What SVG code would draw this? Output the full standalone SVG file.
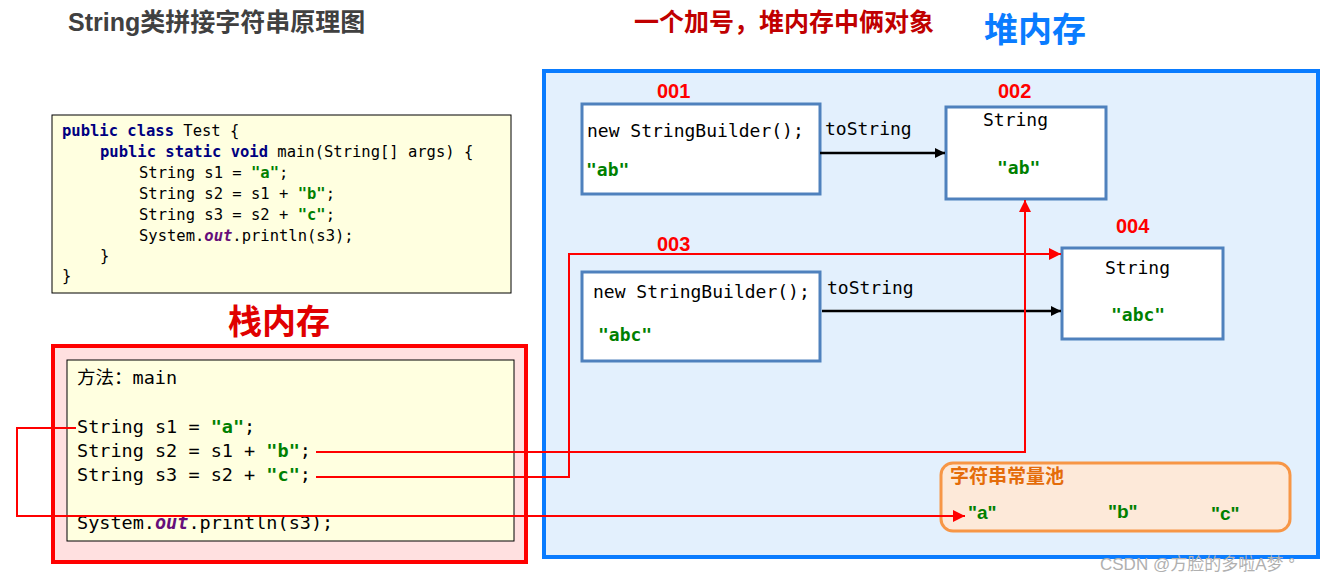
<svg xmlns="http://www.w3.org/2000/svg" width="1332" height="581" viewBox="0 0 1332 581">
<style>
.m{font-family:"DejaVu Sans Mono","Liberation Mono",monospace;fill:#000}
.k{fill:#000080;font-weight:bold}
.s{fill:#008000;font-weight:bold}
.o{fill:#660e7a;font-weight:bold;font-style:italic}
.n{font-family:"Liberation Sans","Noto Sans CJK SC",sans-serif;font-weight:bold;fill:#ff0000;font-size:20px}
.b{fill:#fff;stroke:#4f81bd;stroke-width:3}
.r{fill:none;stroke:#ff0000;stroke-width:2}
</style>
<defs>
<marker id="ar" viewBox="0 0 10 10" refX="10" refY="5" markerWidth="6" markerHeight="6" orient="auto"><path d="M0,0L10,5L0,10z" fill="#ff0000"/></marker>
<marker id="ab" viewBox="0 0 10 10" refX="10" refY="5" markerWidth="4" markerHeight="4" orient="auto"><path d="M0,0L10,5L0,10z" fill="#000"/></marker>
</defs>
<rect width="1332" height="581" fill="#fff"/>
<text x="68" y="31" font-family="Liberation Sans,Noto Sans CJK SC,sans-serif" font-weight="bold" font-size="25" fill="#404040">String类拼接字符串原理图</text>
<text x="634" y="31" font-family="Noto Sans CJK SC,sans-serif" font-weight="bold" font-size="25" fill="#c00000">一个加号，堆内存中俩对象</text>
<text x="984" y="42" font-family="Noto Sans CJK SC,sans-serif" font-weight="bold" font-size="34" fill="#0a7cff">堆内存</text>
<text x="228" y="334" font-family="Noto Sans CJK SC,sans-serif" font-weight="bold" font-size="34" fill="#e00000">栈内存</text>

<g id="code">
<rect x="52" y="115" width="459" height="178" fill="#ffffe0" stroke="#000"/>
<text class="m" font-size="15.5"><tspan x="62" y="136"><tspan class="k">public class</tspan> Test {</tspan><tspan x="100" y="157"><tspan class="k">public static void</tspan> main(String[] args) {</tspan><tspan x="139" y="178">String s1 = <tspan class="s">"a"</tspan>;</tspan><tspan x="139" y="199">String s2 = s1 + <tspan class="s">"b"</tspan>;</tspan><tspan x="139" y="220">String s3 = s2 + <tspan class="s">"c"</tspan>;</tspan><tspan x="139" y="241">System.<tspan class="o">out</tspan>.println(s3);</tspan><tspan x="100" y="261">}</tspan><tspan x="62" y="281">}</tspan></text>
</g>

<g id="stack">
<rect x="53" y="346" width="473" height="216" fill="#ffe0e0" stroke="#ff0000" stroke-width="4"/>
<rect x="67" y="360" width="447" height="181" fill="#ffffe0" stroke="#000"/>
<text class="m" font-size="18.5"><tspan x="77" y="384" font-family="DejaVu Sans Mono,Noto Sans CJK SC,monospace">方法：main</tspan><tspan x="77" y="433">String s1 = <tspan class="s">"a"</tspan>;</tspan><tspan x="77" y="457">String s2 = s1 + <tspan class="s">"b"</tspan>;</tspan><tspan x="77" y="481">String s3 = s2 + <tspan class="s">"c"</tspan>;</tspan><tspan x="77" y="529">System.<tspan class="o">out</tspan>.println(s3);</tspan></text>
</g>

<g id="heap">
<rect x="544" y="71" width="774" height="486" fill="#e3f0fd" stroke="#0a7cff" stroke-width="4"/>
</g>

<g id="n001">
<text class="n" x="657" y="98">001</text>
<rect class="b" x="582" y="104" width="238" height="90"/>
<text class="m" font-size="18" x="587" y="137">new StringBuilder();</text>
<text class="m s" font-size="18" x="586" y="176">"ab"</text>
</g>
<g id="n002">
<text class="n" x="998" y="98">002</text>
<rect class="b" x="946" y="107" width="160" height="92"/>
<text class="m" font-size="18" x="983" y="126">String</text>
<text class="m s" font-size="18" x="997" y="174">"ab"</text>
</g>
<g id="n003">
<text class="n" x="657" y="251">003</text>
<rect class="b" x="582" y="272" width="238" height="89"/>
<text class="m" font-size="18" x="593" y="298">new StringBuilder();</text>
<text class="m s" font-size="18" x="598" y="341">"abc"</text>
</g>
<g id="n004">
<text class="n" x="1116" y="233">004</text>
<rect class="b" x="1062" y="248" width="161" height="91"/>
<text class="m" font-size="18" x="1105" y="274">String</text>
<text class="m s" font-size="18" x="1111" y="321">"abc"</text>
</g>
<g id="pool">
<rect x="941" y="463" width="349" height="68" rx="12" fill="#fde9d9" stroke="#f79646" stroke-width="3"/>
<text x="950" y="483" font-family="Noto Sans CJK SC,sans-serif" font-weight="bold" font-size="19" fill="#e46c0a">字符串常量池</text>
<text font-family="Liberation Sans,sans-serif" font-weight="bold" font-size="19" fill="#008000"><tspan x="968" y="519">"a"</tspan><tspan x="1108" y="518">"b"</tspan><tspan x="1211" y="520">"c"</tspan></text>
</g>

<g id="connectors">
<text class="m" font-size="18" x="825" y="135">toString</text>
<text class="m" font-size="18" x="827" y="294">toString</text>
<line x1="820" y1="153" x2="945" y2="153" stroke="#000" stroke-width="2.5" marker-end="url(#ab)"/>
<line x1="822" y1="311" x2="1061" y2="311" stroke="#000" stroke-width="2.5" marker-end="url(#ab)"/>
<polyline class="r" points="76,428 17,428 17,516 965,516" marker-end="url(#ar)"/>
<polyline class="r" points="316,452 1025,452 1025,200" marker-end="url(#ar)"/>
<polyline class="r" points="316,477 569,477 569,254 1061,254" marker-end="url(#ar)"/>
</g>
<text x="1100" y="570" font-family="Liberation Sans,Noto Sans CJK SC,sans-serif" font-size="17" fill="#b0b0b0">CSDN @方脸的多啦A梦 °</text>
</svg>
